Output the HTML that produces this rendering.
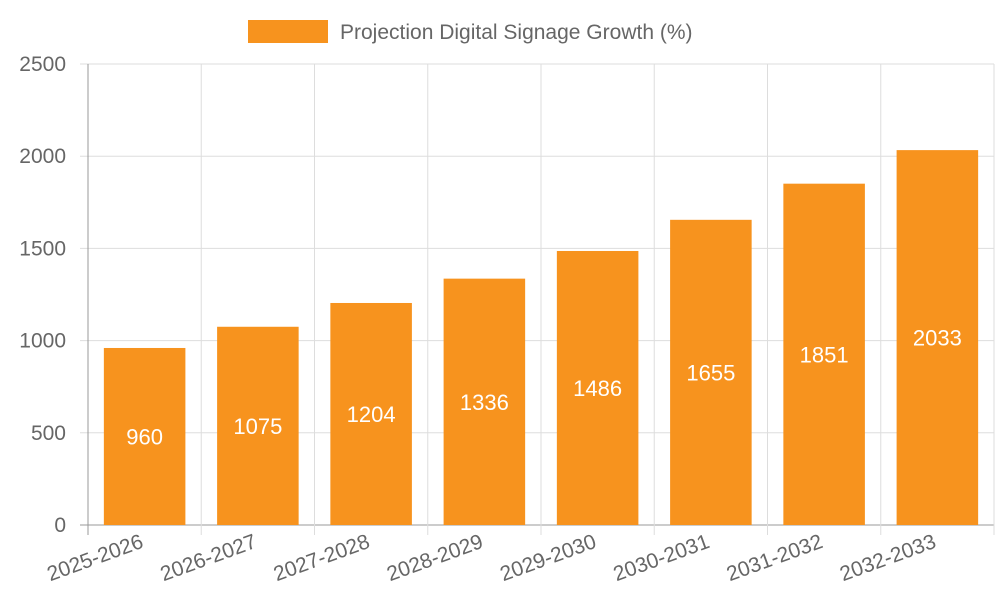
<!DOCTYPE html>
<html><head><meta charset="utf-8"><style>
html,body{margin:0;padding:0;background:#fff;}
svg{display:block;font-family:"Liberation Sans",sans-serif;}
</style></head><body>
<svg id="chart" width="1000" height="600">
<g>
<rect x="248" y="20" width="80" height="23" fill="#f7931e"/>
<text x="340" y="39" font-size="21" fill="#666">Projection Digital Signage Growth (%)</text>
</g>
<g id="grid"></g><g id="bars"></g><g id="labels"></g>
</svg>
<script>
const categories=["2025-2026","2026-2027","2027-2028","2028-2029","2029-2030","2030-2031","2031-2032","2032-2033"];
const values=[960,1075,1204,1336,1486,1655,1851,2033];
const yTicks=[0,500,1000,1500,2000,2500];
const L=88,R=994,T=64,B=525,yMax=2500;
const ns="http://www.w3.org/2000/svg";
const bw=(R-L)/categories.length;
const x=i=>L+i*bw;
const y=v=>B-(v/yMax)*(B-T);
function mk(tag,attrs,parent,text){const e=document.createElementNS(ns,tag);for(const k in attrs)e.setAttribute(k,attrs[k]);if(text!==undefined)e.textContent=text;parent.appendChild(e);return e;}
const grid=document.getElementById('grid'),bars=document.getElementById('bars'),labels=document.getElementById('labels');
yTicks.forEach(t=>{
 const ln=mk('line',{x1:L-8,x2:R,y1:y(t),y2:y(t),stroke:t===0?'#999':'#ddd','stroke-width':1},grid);
 
 
 const tx=mk('text',{x:L-22,y:y(t)+7,'text-anchor':'end','font-size':21,fill:'#666'},grid,t);
 
 
});
for(let i=0;i<=categories.length;i++){
 const ln=mk('line',{x1:x(i),x2:x(i),y1:T,y2:B+10,stroke:i===0?'#999':'#ddd','stroke-width':1},grid);
 
 
}
categories.forEach((c,i)=>{
 const w=bw*0.72,cx=x(i)+bw/2;
 const r=mk('rect',{x:cx-w/2,y:y(values[i]),width:w,height:B-y(values[i]),fill:'#f7931e'},bars);
 
 
 const v=mk('text',{x:cx,y:(y(values[i])+B)/2+8,'text-anchor':'middle','font-size':22,fill:'#fff'},labels,values[i]);
 
 
 const t=mk('text',{x:cx,y:B+22,'text-anchor':'end','font-size':21,fill:'#666',transform:`rotate(-20 ${cx} ${B+22})`},labels,c);
 
 
});
</script>
</body></html>
